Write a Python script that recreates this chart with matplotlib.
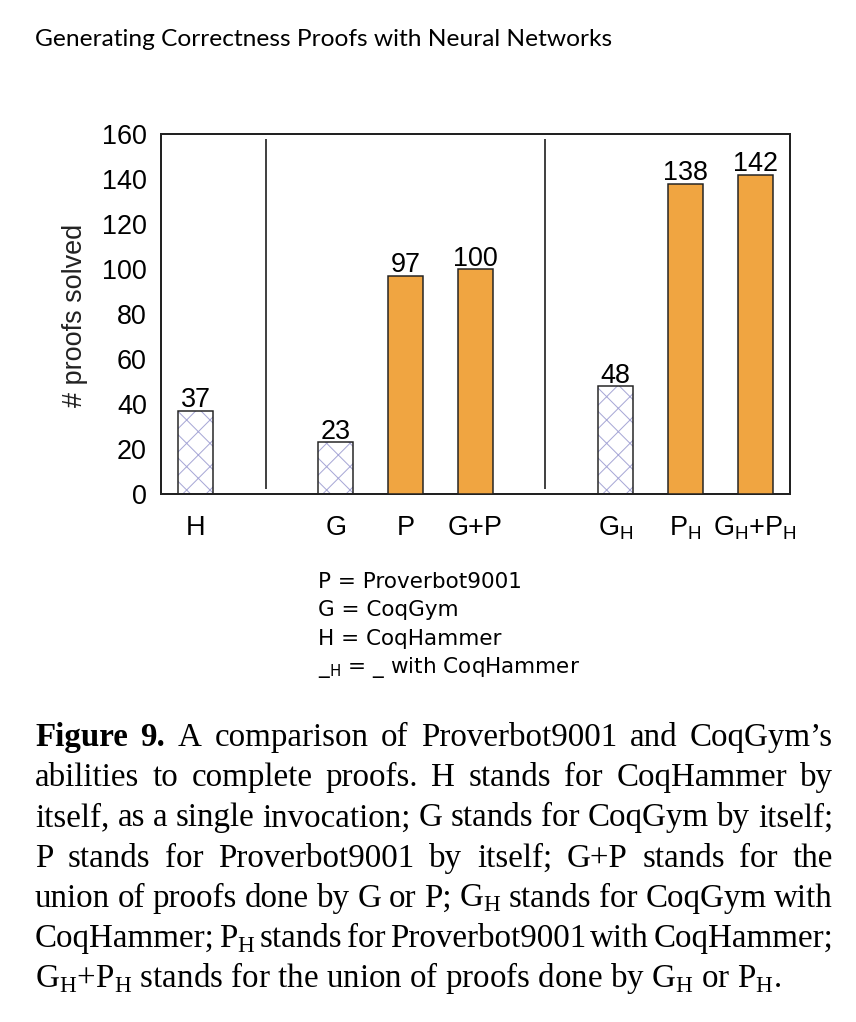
import matplotlib
matplotlib.use("Agg")
import matplotlib.pyplot as plt

DPI = 140
W_PX, H_PX = 856, 1022


def pt(px):
    return px * 72.0 / DPI


def fx(px):
    return px / W_PX


def fy(px):
    return 1.0 - px / H_PX


# data
labels = ["H", "G", "P", "G+P", r"G$_\mathregular{H}$", r"P$_\mathregular{H}$",
          r"G$_\mathregular{H}$+P$_\mathregular{H}$"]
positions = [0, 2, 3, 4, 6, 7, 8]
values = [37, 23, 97, 100, 48, 138, 142]
hatched = [True, True, False, False, True, False, False]
separators = [1, 5]
legend_lines = ["P = Proverbot9001", "G = CoqGym", "H = CoqHammer",
                r"_$_\mathregular{H}$ = _ with CoqHammer"]
header = "Generating Correctness Proofs with Neural Networks"
caption_lines = [
    [("Figure", "bold"), ("9.", "bold"), ("A", ""), ("comparison", ""), ("of", ""),
     ("Proverbot9001", ""), ("and", ""), ("CoqGym’s", "")],
    "abilities to complete proofs. H stands for CoqHammer by",
    "itself, as a single invocation; G stands for CoqGym by itself;",
    "P stands for Proverbot9001 by itself; G+P stands for the",
    r"union of proofs done by G or P; G$_\mathregular{H}$ stands for CoqGym with",
    r"CoqHammer; P$_\mathregular{H}$ stands for Proverbot9001 with CoqHammer;",
    r"G$_\mathregular{H}$+P$_\mathregular{H}$ stands for the union of proofs done by G$_\mathregular{H}$ or P$_\mathregular{H}$.",
]

ORANGE = "#f0a541"
HATCH_COLOR = "#a7a7d6"
SANS = "Liberation Sans"
SERIF = "Liberation Serif"

plt.rcParams["hatch.linewidth"] = pt(1.0)

fig = plt.figure(figsize=(W_PX / DPI, H_PX / DPI), dpi=DPI)
fig.patch.set_facecolor("white")

ax = fig.add_axes([fx(161), fy(494), fx(790) - fx(161), fy(134) - fy(494)])

for x, v, h in zip(positions, values, hatched):
    if h:
        ax.bar(x, v, width=0.5, color="white", edgecolor=HATCH_COLOR, hatch="xx", linewidth=0, zorder=2)
        ax.bar(x, v, width=0.5, fill=False, edgecolor="#222222", linewidth=pt(1.5), zorder=3)
    else:
        ax.bar(x, v, width=0.5, color=ORANGE, edgecolor="#222222", linewidth=pt(1.5), zorder=3)
    ax.text(x, v - 1.2, str(v), ha="center", va="bottom", fontsize=pt(27), family=SANS, zorder=4)

for s in separators:
    ax.plot([s, s], [2.7, 157.3], color="#444444", linewidth=pt(2), zorder=1)

ax.set_xlim(-0.5, 8.5)
ax.set_ylim(0, 160)
ax.set_yticks(range(0, 161, 20))
ax.set_xticks(positions)
ax.set_xticklabels(labels)
ax.tick_params(axis="both", length=0, labelsize=pt(27))
ax.tick_params(axis="y", pad=pt(14))
ax.tick_params(axis="x", pad=pt(21))
for lab in ax.get_xticklabels() + ax.get_yticklabels():
    lab.set_family(SANS)
for sp in ax.spines.values():
    sp.set_linewidth(pt(2))
    sp.set_color("#222222")

fig.text(fx(75), fy(315), "# proofs solved", rotation=90, ha="center", va="center",
         fontsize=pt(27), family=SANS, color="#222222")

# key below the chart
for i, line in enumerate(legend_lines):
    fig.text(fx(318), fy(588 + i * 28.3), line, ha="left", va="baseline",
             fontsize=pt(21.5), family="DejaVu Sans")

# running header
fig.text(fx(35), fy(46), header, ha="left", va="baseline", fontsize=pt(24.5), family="Lato")

# caption, justified between x=35 and x=833
renderer = fig.canvas.get_renderer()
LEFT, RIGHT = 35, 833
CAP_SIZE = pt(33)
for i, line in enumerate(caption_lines):
    y = fy(746 + i * 40.2)
    if isinstance(line, str):
        words = [(w, "") for w in line.split(" ")]
    else:
        words = line
    if i == len(caption_lines) - 1:
        fig.text(fx(LEFT), y, line, ha="left", va="baseline", fontsize=CAP_SIZE, family=SERIF)
        continue
    texts = []
    for w, wt in words:
        t = fig.text(0, y, w, ha="left", va="baseline", fontsize=CAP_SIZE, family=SERIF,
                     weight="bold" if wt else "normal")
        texts.append(t)
    widths = [t.get_window_extent(renderer).width for t in texts]
    gap = (RIGHT - LEFT - sum(widths)) / (len(texts) - 1)
    x = LEFT
    for t, wd in zip(texts, widths):
        t.set_x(fx(x))
        x += wd + gap

fig.savefig("out.png", dpi=DPI)
